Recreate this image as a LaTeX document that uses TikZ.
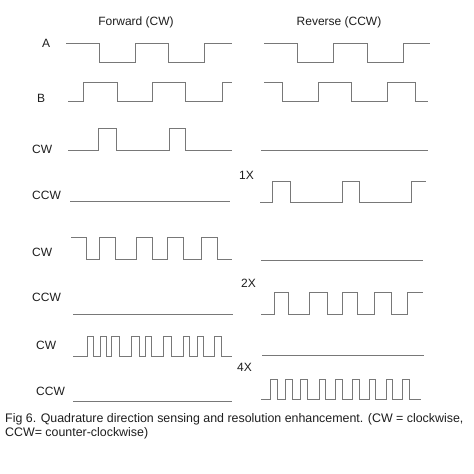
\documentclass[tikz,border=0pt]{standalone}
\usepackage{fontspec}
\setmainfont{Liberation Sans}
\definecolor{wavegray}{RGB}{120,120,120}
\definecolor{txt}{RGB}{30,30,30}
\begin{document}
\begin{tikzpicture}[x=1pt,y=-1pt,
  wave/.style={draw=wavegray, line width=1pt, line join=miter},
  lbl/.style={font=\fontsize{12}{14}\selectfont, text=txt, inner sep=0pt, anchor=west},
  head/.style={font=\fontsize{12}{14}\selectfont, text=txt, inner sep=0pt},
  captext/.style={font=\fontsize{12.4}{13}\selectfont, text=txt, inner sep=0pt, anchor=west}]
\useasboundingbox[fill=white] (0,0) rectangle (474,474);

% headers
\node[head] (hfwd) at (136,22) {Forward (CW)};
\node[head] (hrev) at (339,22) {Reverse (CCW)};

% row labels
\node[lbl] (la) at (42,43) {A};
\node[lbl] (lb) at (37,98) {B};
\node[lbl] (lcw1) at (32,149) {CW};
\node[lbl] (lccw1) at (32,195) {CCW};
\node[lbl] (lcw2) at (32,252) {CW};
\node[lbl] (lccw2) at (32,297) {CCW};
\node[lbl] (lcw4) at (36,345) {CW};
\node[lbl] (lccw4) at (36,391) {CCW};
\node[lbl] (x1) at (239,175) {1X};
\node[lbl] (x2) at (241,283) {2X};
\node[lbl] (x4) at (237,367) {4X};

% A
\draw[wave] (66,43) -| (99,62) -| (135,43) -| (168,62) -| (204,43) -- (232,43);
\draw[wave] (264,43) -| (297,62) -| (333,43) -| (367,62) -| (403,43) -- (430,43);
% B
\draw[wave] (68,101) -| (83,82) -| (117,101) -| (152,82) -| (185,101) -| (222,82) -- (232,82);
\draw[wave] (264,82) -| (282,101) -| (318,82) -| (351,101) -| (387,82) -| (415,101) -- (428,101);
% 1X
\draw[wave] (68,150) -| (98,128) -| (116,150) -| (169,128) -| (185,150) -- (232,150);
\draw[wave] (261,150) -- (428,150);
\draw[wave] (70,201) -- (230,201);
\draw[wave] (260,202) -| (272,181) -| (290,202) -| (342,181) -| (359,202) -| (411,181) -- (426,181);
% 2X
\draw[wave] (71,237) -| (86,259) -| (99,237) -| (115,259) -| (136,237) -| (152,259) -| (167,237) -| (183,259) -| (201,237) -| (217,259) -- (232,259);
\draw[wave] (261,260) -- (423,260);
\draw[wave] (73,314) -- (233,314);
\draw[wave] (261,314) -| (274,292) -| (288,314) -| (309,292) -| (327,314) -| (342,292) -| (357,314) -| (374,292) -| (391,314) -| (407,292) -- (423,292);
% 4X
\draw[wave] (73,356) foreach \r/\f in {87/93,100/106,111/119,131/139,145/151,163/171,183/189,197/203,214/221} { -| (\r,336) -| (\f,356) } -- (232,356);
\draw[wave] (262,355) -- (424,355);
\draw[wave] (73,401) -- (232,401);
\draw[wave] (261,399) foreach \r/\f in {270/277,285/292,300/307,319/325,335/342,352/359,369/375,386/392,402/409} { -| (\r,379) -| (\f,399) } -- (421,399);

% caption
\node[captext] (cap1) at (5,419) {Fig 6. Quadrature direction sensing and resolution enhancement. (CW = clockwise,};
\node[captext] (cap2) at (5,433) {CCW= counter-clockwise)};
\end{tikzpicture}
\end{document}
